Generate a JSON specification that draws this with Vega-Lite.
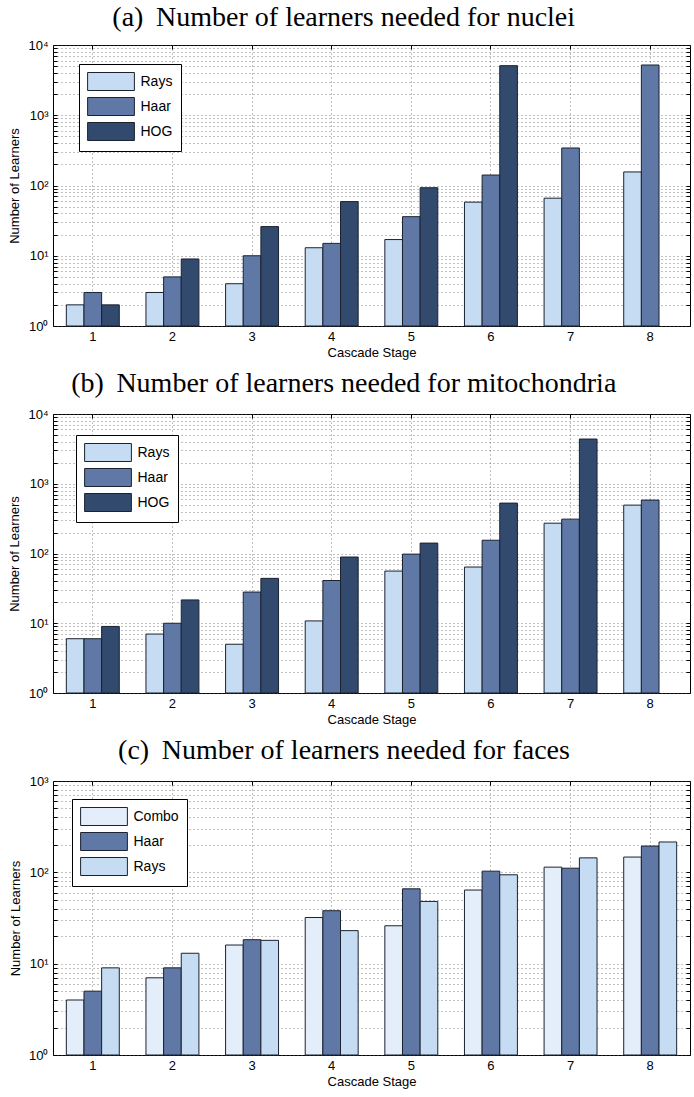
{
  "$schema": "https://vega.github.io/schema/vega-lite/v6.json",
  "padding": {"left": 8, "top": 3, "right": 2, "bottom": 2},
  "spacing": 9,
  "datasets": {
    "nuclei": [
      {"stage": 1, "feature": "Rays", "learners": 2},
      {"stage": 1, "feature": "Haar", "learners": 3},
      {"stage": 1, "feature": "HOG", "learners": 2},
      {"stage": 2, "feature": "Rays", "learners": 3},
      {"stage": 2, "feature": "Haar", "learners": 5},
      {"stage": 2, "feature": "HOG", "learners": 9},
      {"stage": 3, "feature": "Rays", "learners": 4},
      {"stage": 3, "feature": "Haar", "learners": 10},
      {"stage": 3, "feature": "HOG", "learners": 26},
      {"stage": 4, "feature": "Rays", "learners": 13},
      {"stage": 4, "feature": "Haar", "learners": 15},
      {"stage": 4, "feature": "HOG", "learners": 59},
      {"stage": 5, "feature": "Rays", "learners": 17},
      {"stage": 5, "feature": "Haar", "learners": 36},
      {"stage": 5, "feature": "HOG", "learners": 93},
      {"stage": 6, "feature": "Rays", "learners": 58},
      {"stage": 6, "feature": "Haar", "learners": 141},
      {"stage": 6, "feature": "HOG", "learners": 5080},
      {"stage": 7, "feature": "Rays", "learners": 66},
      {"stage": 7, "feature": "Haar", "learners": 342},
      {"stage": 8, "feature": "Rays", "learners": 156},
      {"stage": 8, "feature": "Haar", "learners": 5190}
    ],
    "mito": [
      {"stage": 1, "feature": "Rays", "learners": 6},
      {"stage": 1, "feature": "Haar", "learners": 6},
      {"stage": 1, "feature": "HOG", "learners": 9},
      {"stage": 2, "feature": "Rays", "learners": 7},
      {"stage": 2, "feature": "Haar", "learners": 10},
      {"stage": 2, "feature": "HOG", "learners": 21.6},
      {"stage": 3, "feature": "Rays", "learners": 5},
      {"stage": 3, "feature": "Haar", "learners": 28},
      {"stage": 3, "feature": "HOG", "learners": 44},
      {"stage": 4, "feature": "Rays", "learners": 10.8},
      {"stage": 4, "feature": "Haar", "learners": 41},
      {"stage": 4, "feature": "HOG", "learners": 89},
      {"stage": 5, "feature": "Rays", "learners": 56},
      {"stage": 5, "feature": "Haar", "learners": 98},
      {"stage": 5, "feature": "HOG", "learners": 141},
      {"stage": 6, "feature": "Rays", "learners": 64},
      {"stage": 6, "feature": "Haar", "learners": 155},
      {"stage": 6, "feature": "HOG", "learners": 528},
      {"stage": 7, "feature": "Rays", "learners": 272},
      {"stage": 7, "feature": "Haar", "learners": 311},
      {"stage": 7, "feature": "HOG", "learners": 4376},
      {"stage": 8, "feature": "Rays", "learners": 494},
      {"stage": 8, "feature": "Haar", "learners": 583}
    ],
    "faces": [
      {"stage": 1, "feature": "Combo", "learners": 4},
      {"stage": 1, "feature": "Haar", "learners": 5},
      {"stage": 1, "feature": "Rays", "learners": 9},
      {"stage": 2, "feature": "Combo", "learners": 7},
      {"stage": 2, "feature": "Haar", "learners": 9},
      {"stage": 2, "feature": "Rays", "learners": 13},
      {"stage": 3, "feature": "Combo", "learners": 16},
      {"stage": 3, "feature": "Haar", "learners": 18.3},
      {"stage": 3, "feature": "Rays", "learners": 18},
      {"stage": 4, "feature": "Combo", "learners": 32},
      {"stage": 4, "feature": "Haar", "learners": 38},
      {"stage": 4, "feature": "Rays", "learners": 23},
      {"stage": 5, "feature": "Combo", "learners": 26},
      {"stage": 5, "feature": "Haar", "learners": 66},
      {"stage": 5, "feature": "Rays", "learners": 48},
      {"stage": 6, "feature": "Combo", "learners": 64},
      {"stage": 6, "feature": "Haar", "learners": 103},
      {"stage": 6, "feature": "Rays", "learners": 94},
      {"stage": 7, "feature": "Combo", "learners": 114},
      {"stage": 7, "feature": "Haar", "learners": 111},
      {"stage": 7, "feature": "Rays", "learners": 144},
      {"stage": 8, "feature": "Combo", "learners": 147},
      {"stage": 8, "feature": "Haar", "learners": 194},
      {"stage": 8, "feature": "Rays", "learners": 215}
    ]
  },
  "resolve": {
    "scale": {"x": "independent", "xOffset": "independent", "y": "independent", "color": "independent"},
    "legend": {"color": "independent"}
  },
  "vconcat": [
    {
      "title": {"text": "(a)  \u2009Number of learners needed for nuclei", "offset": 7},
      "width": 637,
      "height": 281,
      "data": {"name": "nuclei"},
      "layer": [
        {
          "mark": {"type": "bar", "stroke": "#1b2230", "strokeWidth": 1},
          "encoding": {
            "x": {"field": "stage", "type": "ordinal", "scale": {"paddingInner": 0.335, "paddingOuter": 0.1675},
              "axis": {"title": "Cascade Stage", "labelAngle": 0, "grid": true, "bandPosition": 0.5, "tickSize": -4, "labelPadding": 8, "titlePadding": 3}},
            "xOffset": {"field": "feature", "scale": {"domain": ["Rays", "Haar", "HOG"], "paddingInner": 0, "paddingOuter": 0}},
            "y": {"field": "learners", "type": "quantitative", "stack": null,
              "scale": {"type": "log", "domain": [1, 10000], "nice": false},
              "axis": {"title": "Number of Learners", "values": [1,2,3,4,5,6,7,8,9,10,20,30,40,50,60,70,80,90,100,200,300,400,500,600,700,800,900,1000,2000,3000,4000,5000,6000,7000,8000,9000,10000],
                "labelExpr": "datum.value==1?'10⁰':datum.value==10?'10¹':datum.value==100?'10²':datum.value==1000?'10³':datum.value==10000?'10⁴':''",
                "labelOverlap": false, "grid": true, "tickSize": -4, "labelPadding": 9, "titlePadding": 6}},
            "color": {"field": "feature", "type": "nominal",
              "scale": {"domain": ["Rays", "Haar", "HOG"], "range": ["#c6dcf2", "#5f78a5", "#314a6e"]},
              "legend": {"orient": "none", "legendX": 26, "legendY": 19}}
          }
        },
        {
          "mark": {"type": "bar", "opacity": 0},
          "encoding": {
            "x": {"field": "stage", "type": "ordinal",
              "axis": {"orient": "top", "labels": false, "title": null, "grid": false, "bandPosition": 0.5, "tickSize": -4}},
            "xOffset": {"field": "feature"},
            "y": {"field": "learners", "type": "quantitative", "stack": null,
              "axis": {"orient": "right", "labels": false, "title": null, "grid": false, "tickSize": -4,
                "values": [1,2,3,4,5,6,7,8,9,10,20,30,40,50,60,70,80,90,100,200,300,400,500,600,700,800,900,1000,2000,3000,4000,5000,6000,7000,8000,9000,10000]}}
          }
        }
      ],
      "resolve": {"axis": {"x": "independent", "y": "independent"}}
    },
    {
      "title": {"text": "(b)  \u2009Number of learners needed for mitochondria"},
      "width": 637,
      "height": 279,
      "data": {"name": "mito"},
      "layer": [
        {
          "mark": {"type": "bar", "stroke": "#1b2230", "strokeWidth": 1},
          "encoding": {
            "x": {"field": "stage", "type": "ordinal", "scale": {"paddingInner": 0.335, "paddingOuter": 0.1675},
              "axis": {"title": "Cascade Stage", "labelAngle": 0, "grid": true, "bandPosition": 0.5, "tickSize": -4, "labelPadding": 8, "titlePadding": 3}},
            "xOffset": {"field": "feature", "scale": {"domain": ["Rays", "Haar", "HOG"], "paddingInner": 0, "paddingOuter": 0}},
            "y": {"field": "learners", "type": "quantitative", "stack": null,
              "scale": {"type": "log", "domain": [1, 10000], "nice": false},
              "axis": {"title": "Number of Learners", "values": [1,2,3,4,5,6,7,8,9,10,20,30,40,50,60,70,80,90,100,200,300,400,500,600,700,800,900,1000,2000,3000,4000,5000,6000,7000,8000,9000,10000],
                "labelExpr": "datum.value==1?'10⁰':datum.value==10?'10¹':datum.value==100?'10²':datum.value==1000?'10³':datum.value==10000?'10⁴':''",
                "labelOverlap": false, "grid": true, "tickSize": -4, "labelPadding": 9, "titlePadding": 6}},
            "color": {"field": "feature", "type": "nominal",
              "scale": {"domain": ["Rays", "Haar", "HOG"], "range": ["#c6dcf2", "#5f78a5", "#314a6e"]},
              "legend": {"orient": "none", "legendX": 23, "legendY": 21}}
          }
        },
        {
          "mark": {"type": "bar", "opacity": 0},
          "encoding": {
            "x": {"field": "stage", "type": "ordinal",
              "axis": {"orient": "top", "labels": false, "title": null, "grid": false, "bandPosition": 0.5, "tickSize": -4}},
            "xOffset": {"field": "feature"},
            "y": {"field": "learners", "type": "quantitative", "stack": null,
              "axis": {"orient": "right", "labels": false, "title": null, "grid": false, "tickSize": -4,
                "values": [1,2,3,4,5,6,7,8,9,10,20,30,40,50,60,70,80,90,100,200,300,400,500,600,700,800,900,1000,2000,3000,4000,5000,6000,7000,8000,9000,10000]}}
          }
        }
      ],
      "resolve": {"axis": {"x": "independent", "y": "independent"}}
    },
    {
      "title": {"text": "(c)  \u2009Number of learners needed for faces"},
      "width": 637,
      "height": 274,
      "data": {"name": "faces"},
      "layer": [
        {
          "mark": {"type": "bar", "stroke": "#1b2230", "strokeWidth": 1},
          "encoding": {
            "x": {"field": "stage", "type": "ordinal", "scale": {"paddingInner": 0.335, "paddingOuter": 0.1675},
              "axis": {"title": "Cascade Stage", "labelAngle": 0, "grid": true, "bandPosition": 0.5, "tickSize": -4, "labelPadding": 8, "titlePadding": 3}},
            "xOffset": {"field": "feature", "scale": {"domain": ["Combo", "Haar", "Rays"], "paddingInner": 0, "paddingOuter": 0}},
            "y": {"field": "learners", "type": "quantitative", "stack": null,
              "scale": {"type": "log", "domain": [1, 1000], "nice": false},
              "axis": {"title": "Number of Learners", "values": [1,2,3,4,5,6,7,8,9,10,20,30,40,50,60,70,80,90,100,200,300,400,500,600,700,800,900,1000],
                "labelExpr": "datum.value==1?'10⁰':datum.value==10?'10¹':datum.value==100?'10²':datum.value==1000?'10³':''",
                "labelOverlap": false, "grid": true, "tickSize": -4, "labelPadding": 9, "titlePadding": 6}},
            "color": {"field": "feature", "type": "nominal",
              "scale": {"domain": ["Combo", "Haar", "Rays"], "range": ["#e3eefa", "#5f78a5", "#c6dcf2"]},
              "legend": {"orient": "none", "legendX": 19, "legendY": 18}}
          }
        },
        {
          "mark": {"type": "bar", "opacity": 0},
          "encoding": {
            "x": {"field": "stage", "type": "ordinal",
              "axis": {"orient": "top", "labels": false, "title": null, "grid": false, "bandPosition": 0.5, "tickSize": -4}},
            "xOffset": {"field": "feature"},
            "y": {"field": "learners", "type": "quantitative", "stack": null,
              "axis": {"orient": "right", "labels": false, "title": null, "grid": false, "tickSize": -4,
                "values": [1,2,3,4,5,6,7,8,9,10,20,30,40,50,60,70,80,90,100,200,300,400,500,600,700,800,900,1000]}}
          }
        }
      ],
      "resolve": {"axis": {"x": "independent", "y": "independent"}}
    }
  ],
  "config": {
    "font": "Liberation Sans",
    "view": {"stroke": "black", "strokeWidth": 1},
    "axis": {
      "labelFont": "Liberation Sans", "labelFontSize": 13, "labelColor": "black",
      "titleFont": "Liberation Sans", "titleFontSize": 13, "titleFontWeight": "normal", "titleColor": "black",
      "domain": false, "tickColor": "black", "tickWidth": 1,
      "gridColor": "#555", "gridDash": [1, 3], "gridWidth": 1, "gridOpacity": 0.75
    },
    "title": {"font": "Liberation Serif", "fontSize": 28, "fontWeight": "normal", "color": "black", "anchor": "middle", "frame": "bounds", "offset": 10, "dx": -6},
    "legend": {
      "title": null,
      "direction": "vertical",
      "strokeColor": "black", "fillColor": "white", "padding": 8,
      "symbolType": "M-2.6,-1H2.6V1H-2.6Z", "symbolSize": 324, "symbolOffset": 14.5,
      "symbolStrokeColor": "#1b2230", "symbolStrokeWidth": 1, "symbolOpacity": 1,
      "labelOffset": 20, "labelFont": "Liberation Sans", "labelFontSize": 14, "labelColor": "black",
      "rowPadding": 2
    }
  }
}
